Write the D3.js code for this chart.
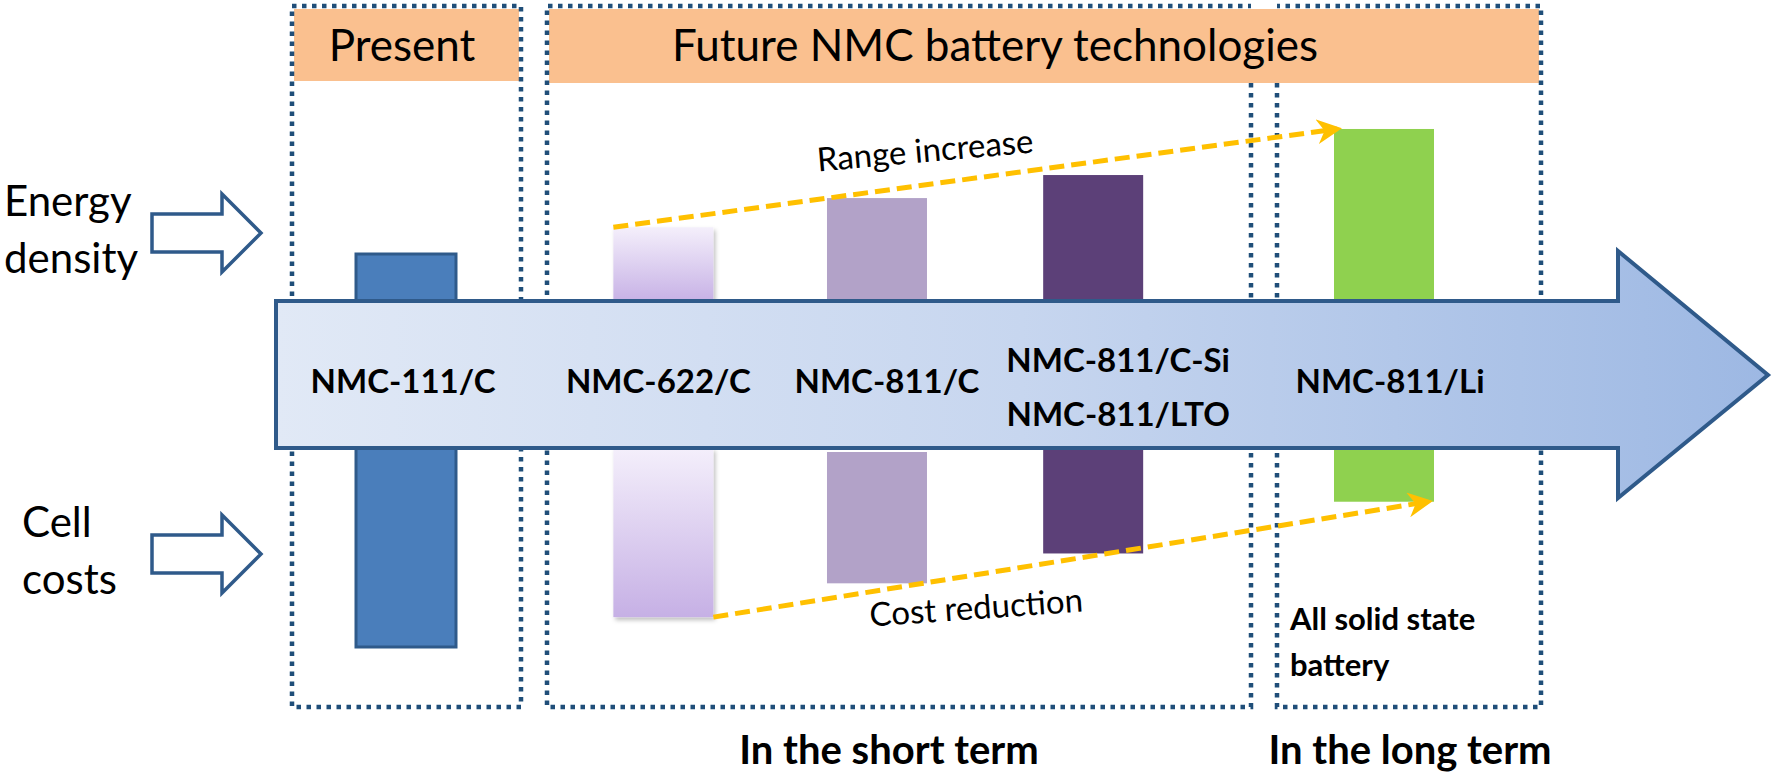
<!DOCTYPE html>
<html>
<head>
<meta charset="utf-8">
<script src="https://cdn.jsdelivr.net/npm/d3@7"></script>
<style>
  body { margin: 0; background: #fff; }
  text { font-family: Lato, "Open Sans", sans-serif; fill: #000; }
</style>
</head>
<body>
<script>
var w = 1778;
var h = 777;

// values, relative to NMC-111/C = 1
var categories = ["NMC-111/C", "NMC-622/C", "NMC-811/C", "NMC-811/C-Si", "NMC-811/Li"];
var subLabels = ["", "", "", "NMC-811/LTO", ""];
var stage = [0, 1, 1.83, 2.67, 3.8];
var energyDensity = [1, 1.57, 2.19, 2.68, 3.66];
var cellCosts = [1, 0.85, 0.68, 0.53, 0.27];
var phases = ["Present", "Future NMC battery technologies"];
var horizons = ["In the short term", "In the long term"];
var sideLabels = [["Energy", "density"], ["Cell", "costs"]];

// layout
var arrowTop = 301, arrowBottom = 448;
var barW = 100;
var navy = "#2f5a8a";
var dotted = "#1f4e79";
var gold = "#ffc000";
var barFill = ["#4a7ebb", "url(#g622)", "#b2a2c8", "#5c4078", "#8fd14f"];
var labelDx = [-3, -5, 10, 25, 6];

var x = d3.scaleLinear().domain([0, 3.8]).range([406, 1384]);
var yE = d3.scaleLinear().domain([0, 1]).range([arrowTop, 254]);
var yC = d3.scaleLinear().domain([0, 1]).range([arrowBottom, 647]);

var svg = d3.select("body")
  .append("svg")
  .attr("width", w)
  .attr("height", h);

var defs = svg.append("defs");

var ga = defs.append("linearGradient").attr("id", "gArrow")
  .attr("x1", 0).attr("x2", 1).attr("y1", 0).attr("y2", 0);
ga.append("stop").attr("offset", 0).attr("stop-color", "#e1e9f6");
ga.append("stop").attr("offset", 0.5).attr("stop-color", "#c7d6ef");
ga.append("stop").attr("offset", 1).attr("stop-color", "#9db8e3");

var gb = defs.append("linearGradient").attr("id", "g622")
  .attr("x1", 0).attr("x2", 0).attr("y1", 0).attr("y2", 1);
gb.append("stop").attr("offset", 0).attr("stop-color", "#f4effb");
gb.append("stop").attr("offset", 1).attr("stop-color", "#c6b0e5");

var sh = defs.append("filter").attr("id", "shadow")
  .attr("x", "-10%").attr("y", "-10%").attr("width", "130%").attr("height", "130%");
sh.append("feDropShadow").attr("dx", 2).attr("dy", 3).attr("stdDeviation", 2)
  .attr("flood-color", "#000").attr("flood-opacity", 0.25);

defs.append("marker")
  .attr("id", "head")
  .attr("viewBox", "0 0 10 10")
  .attr("refX", 8).attr("refY", 5)
  .attr("markerWidth", 5).attr("markerHeight", 5)
  .attr("markerUnits", "strokeWidth")
  .attr("orient", "auto")
  .append("path")
  .attr("d", "M0,0 L10,5 L0,10 L3,5 Z")
  .attr("fill", gold);

// orange headers
svg.append("rect").attr("x", 294).attr("y", 9).attr("width", 225).attr("height", 72)
  .attr("fill", "#fac08f");
svg.append("rect").attr("x", 549).attr("y", 9).attr("width", 990).attr("height", 74)
  .attr("fill", "#fac08f");

svg.append("text").attr("x", 402).attr("y", 61).attr("text-anchor", "middle")
  .style("font-size", "44px").text(phases[0]);
svg.append("text").attr("x", 995).attr("y", 61).attr("text-anchor", "middle")
  .style("font-size", "44px").text(phases[1]);

// dotted frames
var frames = [
  "M292,6 H521 V707 H292 Z",
  "M1251,83 V707 H547 V6 H1251",
  "M1277,83 V707 H1541 V6 H1277"
];
svg.selectAll("path.frame")
  .data(frames)
  .enter()
  .append("path")
  .attr("class", "frame")
  .attr("d", function(d) { return d; })
  .attr("fill", "none")
  .attr("stroke", dotted)
  .attr("stroke-width", 4.5)
  .attr("stroke-dasharray", "4.5,5.5");

// side labels with hollow arrows
var sideY = [233, 554];
sideLabels.forEach(function(lines, i) {
  var t = svg.append("text").style("font-size", "42px");
  t.append("tspan").attr("x", i == 0 ? 4 : 22).attr("y", sideY[i] - 17).text(lines[0]);
  t.append("tspan").attr("x", i == 0 ? 4 : 22).attr("y", sideY[i] + 40).text(lines[1]);
  var cy = sideY[i];
  svg.append("path")
    .attr("d", "M152," + (cy - 19) + " H222 V" + (cy - 39) + " L261," + cy +
      " L222," + (cy + 39) + " V" + (cy + 19) + " H152 Z")
    .attr("fill", "#fff")
    .attr("stroke", navy)
    .attr("stroke-width", 3.5);
});

// energy density bars (up)
svg.selectAll("rect.energy")
  .data(energyDensity)
  .enter()
  .append("rect")
  .attr("class", "energy")
  .attr("x", function(d, i) { return x(stage[i]) - barW / 2; })
  .attr("y", function(d) { return yE(d); })
  .attr("width", barW)
  .attr("height", function(d) { return yE(0) - yE(d) + 2; })
  .attr("fill", function(d, i) { return barFill[i]; })
  .attr("stroke", function(d, i) { return i == 0 ? navy : "none"; })
  .attr("stroke-width", 3)
  .attr("filter", function(d, i) { return i == 1 ? "url(#shadow)" : null; });

// cell cost bars (down)
svg.selectAll("rect.cost")
  .data(cellCosts)
  .enter()
  .append("rect")
  .attr("class", "cost")
  .attr("x", function(d, i) { return x(stage[i]) - barW / 2; })
  .attr("y", function(d, i) { return yC(0) + (i == 2 ? 4 : 0); })
  .attr("width", barW)
  .attr("height", function(d, i) { return yC(d) - yC(0) - (i == 2 ? 4 : 0); })
  .attr("fill", function(d, i) { return barFill[i]; })
  .attr("stroke", function(d, i) { return i == 0 ? navy : "none"; })
  .attr("stroke-width", 3)
  .attr("filter", function(d, i) { return i == 1 ? "url(#shadow)" : null; });

// the big timeline arrow
var headX = 1618, tipX = 1768;
svg.append("path")
  .attr("d", "M276," + arrowTop + " H" + headX + " V251 L" + tipX + ",375 L" + headX +
    ",498 V" + arrowBottom + " H276 Z")
  .attr("fill", "url(#gArrow)")
  .attr("stroke", navy)
  .attr("stroke-width", 4)
  .attr("stroke-linejoin", "miter");

// technology labels
svg.selectAll("text.tech")
  .data(categories)
  .enter()
  .append("text")
  .attr("class", "tech")
  .attr("x", function(d, i) { return x(stage[i]) + labelDx[i]; })
  .attr("y", function(d, i) { return subLabels[i] ? 372 : 393; })
  .attr("text-anchor", "middle")
  .style("font-size", "33px")
  .style("font-weight", "bold")
  .text(function(d) { return d; });

svg.selectAll("text.sub")
  .data(subLabels.filter(function(d) { return d; }))
  .enter()
  .append("text")
  .attr("class", "sub")
  .attr("x", x(stage[3]) + labelDx[3])
  .attr("y", 426)
  .attr("text-anchor", "middle")
  .style("font-size", "33px")
  .style("font-weight", "bold")
  .text(function(d) { return d; });

// trend arrows
var last = categories.length - 1;
var rangeLine = [
  [x(stage[1]) - barW / 2, yE(energyDensity[1])],
  [x(stage[last]) - barW / 2 + 3, yE(energyDensity[last])]
];
var costLine = [
  [x(stage[1]) + barW / 2, yC(cellCosts[1])],
  [x(stage[last]) + barW / 2 - 6, yC(cellCosts[last])]
];
[rangeLine, costLine].forEach(function(l) {
  svg.append("line")
    .attr("x1", l[0][0]).attr("y1", l[0][1])
    .attr("x2", l[1][0]).attr("y2", l[1][1])
    .attr("stroke", gold)
    .attr("stroke-width", 5)
    .attr("stroke-dasharray", "15,7")
    .attr("marker-end", "url(#head)");
});

svg.append("text")
  .attr("transform", "translate(926,162) rotate(-5)")
  .attr("text-anchor", "middle")
  .style("font-size", "33px")
  .text("Range increase");
svg.append("text")
  .attr("transform", "translate(977,619) rotate(-4)")
  .attr("text-anchor", "middle")
  .style("font-size", "33px")
  .text("Cost reduction");

// all solid state note
var note = svg.append("text").style("font-size", "31px").style("font-weight", "bold");
note.append("tspan").attr("x", 1290).attr("y", 630).text("All solid state");
note.append("tspan").attr("x", 1290).attr("y", 676).text("battery");

// time horizons
svg.append("text").attr("x", 889).attr("y", 764).attr("text-anchor", "middle")
  .style("font-size", "40px").style("font-weight", "bold").text(horizons[0]);
svg.append("text").attr("x", 1410).attr("y", 764).attr("text-anchor", "middle")
  .style("font-size", "40px").style("font-weight", "bold").text(horizons[1]);
</script>
</body>
</html>
